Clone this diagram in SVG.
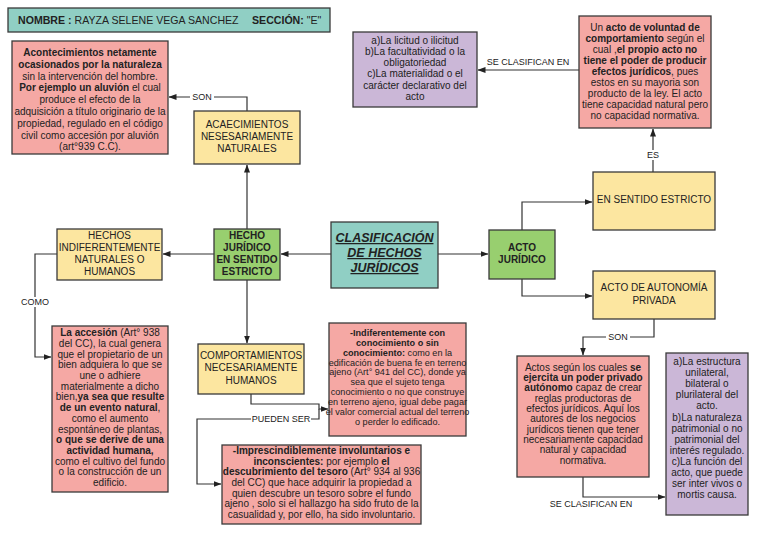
<svg xmlns="http://www.w3.org/2000/svg" width="768" height="543" viewBox="0 0 768 543">
<defs>
<marker id="arr" markerWidth="8" markerHeight="6" refX="7.5" refY="3" orient="auto" markerUnits="userSpaceOnUse"><path d="M0,0 L8,3 L0,6 z" fill="#222"/></marker>
<style>
text{font-family:"Liberation Sans",Arial,sans-serif;fill:#222;text-anchor:middle}
.b{font-weight:bold}
.box{stroke:#3a3a3a;stroke-width:1.3}
.red{fill:#f5a8a4}.yel{fill:#fce6a0}.grn{fill:#98cf6f}.pur{fill:#cbb7d7}.teal{fill:#90cfc4}
.t10{font-size:10px}.t9{font-size:9.1px}
.conn path{fill:none;stroke:#333;stroke-width:1.2}
.lbl{font-size:9px}
.bg{fill:#fff}
.cl{font-size:12.5px;font-weight:bold;font-style:italic;text-decoration:underline}
</style>
</defs>
<rect width="768" height="543" fill="#fff"/>

<g id="header">
<rect class="box teal" x="8" y="8" width="322" height="24"/>
<text x="18" y="24" style="font-size:10.6px;text-anchor:start"><tspan class="b">NOMBRE :</tspan> RAYZA SELENE VEGA SANCHEZ</text>
<text x="252" y="24" style="font-size:10.6px;text-anchor:start"><tspan class="b">SECCIÓN:</tspan> "E"</text>
</g>

<g class="conn" id="connectors">
<path d="M247,111 V97 H169" marker-end="url(#arr)"/>
<path d="M331,254 H281" marker-end="url(#arr)"/>
<path d="M214,254 H163" marker-end="url(#arr)"/>
<path d="M247,229 V165" marker-end="url(#arr)"/>
<path d="M247,280 V343" marker-end="url(#arr)"/>
<path d="M57,254 H35 V357 H51" marker-end="url(#arr)"/>
<path d="M251,394 V404 H319 V409 H328" marker-end="url(#arr)"/>
<path d="M319,409 V419 H197 V484 H221" marker-end="url(#arr)"/>
<path d="M438,254 H488" marker-end="url(#arr)"/>
<path d="M522,230 V202 H592" marker-end="url(#arr)"/>
<path d="M522,279 V296 H592" marker-end="url(#arr)"/>
<path d="M653,172 V129" marker-end="url(#arr)"/>
<path d="M579,70 H478" marker-end="url(#arr)"/>
<path d="M654,319 V337 H583 V355" marker-end="url(#arr)"/>
<path d="M583,477 V497 H665" marker-end="url(#arr)"/>
<rect class="bg" x="190" y="92" width="24" height="10"/>
<text class="lbl" x="202" y="100">SON</text>
<rect class="bg" x="21" y="297" width="28" height="10"/>
<text class="lbl" x="35" y="305">COMO</text>
<rect class="bg" x="251" y="414" width="60" height="10"/>
<text class="lbl" x="281" y="422">PUEDEN SER</text>
<rect class="bg" x="645" y="150" width="16" height="10"/>
<text class="lbl" x="653" y="158">ES</text>
<text class="lbl" x="528" y="65">SE CLASIFICAN EN</text>
<rect class="bg" x="606" y="332" width="24" height="10"/>
<text class="lbl" x="618" y="340">SON</text>
<text class="lbl" x="591" y="507">SE CLASIFICAN EN</text>
</g>

<g id="n-naturaleza">
<rect class="box red" x="12" y="41" width="156" height="113"/>
<text class="t10" x="90" y="56"><tspan class="b">Acontecimientos netamente</tspan></text>
<text class="t10" x="90" y="67.8"><tspan class="b">ocasionados por la naturaleza</tspan></text>
<text class="t10" x="90" y="79.6">sin la intervención del hombre.</text>
<text class="t10" x="90" y="91.4"><tspan class="b">Por ejemplo un aluvión</tspan> el cual</text>
<text class="t10" x="90" y="103.2">produce el efecto de la</text>
<text class="t10" x="90" y="115">adquisición a título originario de la</text>
<text class="t10" x="90" y="126.8">propiedad, regulado en el código</text>
<text class="t10" x="90" y="138.6">civil como accesión por aluvión</text>
<text class="t10" x="90" y="150.4">(art°939 C.C).</text>
</g>

<g id="n-acaecimientos">
<rect class="box yel" x="194" y="111" width="106" height="53"/>
<text class="t10" x="247" y="128">ACAECIMIENTOS</text>
<text class="t10" x="247" y="140">NESESARIAMENTE</text>
<text class="t10" x="247" y="152">NATURALES</text>
</g>

<g id="n-licitud">
<rect class="box pur" x="353" y="32" width="124" height="75"/>
<text class="t10" x="415" y="43.5">a)La licitud o ilicitud</text>
<text class="t10" x="415" y="54.8">b)La facultatividad o la</text>
<text class="t10" x="415" y="66.1">obligatoriedad</text>
<text class="t10" x="415" y="77.4">c)La materialidad o el</text>
<text class="t10" x="415" y="88.7">carácter declarativo del</text>
<text class="t10" x="415" y="100">acto</text>
</g>

<g id="n-voluntad">
<rect class="box red" x="579" y="16" width="132" height="112"/>
<text class="t10" x="645" y="30.8">Un <tspan class="b">acto de voluntad de</tspan></text>
<text class="t10" x="645" y="41.8"><tspan class="b">comportamiento</tspan> según el</text>
<text class="t10" x="645" y="52.7">cual ,<tspan class="b">el propio acto no</tspan></text>
<text class="t10" x="645" y="63.7"><tspan class="b">tiene el poder de producir</tspan></text>
<text class="t10" x="645" y="74.6"><tspan class="b">efectos jurídicos</tspan>, pues</text>
<text class="t10" x="645" y="85.6">estos en su mayoria son</text>
<text class="t10" x="645" y="96.6">producto de la ley. El acto</text>
<text class="t10" x="645" y="107.5">tiene capacidad natural pero</text>
<text class="t10" x="645" y="118.5">no capacidad normativa.</text>
</g>

<g id="n-indiferentes">
<rect class="box yel" x="57" y="229" width="105" height="51"/>
<text class="t10" x="109.5" y="239">HECHOS</text>
<text class="t10" x="109.5" y="251">INDIFERENTEMENTE</text>
<text class="t10" x="109.5" y="263">NATURALES O</text>
<text class="t10" x="109.5" y="274.5">HUMANOS</text>
</g>

<g id="n-hecho">
<rect class="box grn" x="214" y="229" width="66" height="51"/>
<text class="t10 b" x="247" y="239">HECHO</text>
<text class="t10 b" x="247" y="251">JURÍDICO</text>
<text class="t10 b" x="247" y="263">EN SENTIDO</text>
<text class="t10 b" x="247" y="274.5">ESTRICTO</text>
</g>

<g id="n-clasificacion">
<rect class="box teal" x="331" y="222" width="107" height="66"/>
<text class="cl" x="384.5" y="242">CLASIFICACIÓN</text>
<text class="cl" x="384.5" y="257">DE HECHOS</text>
<text class="cl" x="384.5" y="272">JURÍDICOS</text>
</g>

<g id="n-acto">
<rect class="box grn" x="489" y="230" width="66" height="49"/>
<text class="t10 b" x="522" y="250.5">ACTO</text>
<text class="t10 b" x="522" y="263">JURÍDICO</text>
</g>

<g id="n-estricto">
<rect class="box yel" x="593" y="172" width="122" height="58"/>
<text class="t10" x="654" y="202.5">EN SENTIDO ESTRICTO</text>
</g>

<g id="n-autonomia">
<rect class="box yel" x="593" y="271" width="122" height="48"/>
<text class="t10" x="654" y="291">ACTO DE AUTONOMÍA</text>
<text class="t10" x="654" y="303.5">PRIVADA</text>
</g>

<g id="n-accesion">
<rect class="box red" x="52" y="326" width="116" height="166"/>
<text class="t10" x="110" y="336.2"><tspan class="b">La accesión</tspan> (Art° 938</text>
<text class="t10" x="110" y="346.9">del CC), la cual genera</text>
<text class="t10" x="110" y="357.6">que el propietario de un</text>
<text class="t10" x="110" y="368.3">bien adquiera lo que se</text>
<text class="t10" x="110" y="379">une o adhiere</text>
<text class="t10" x="110" y="389.7">materialmente a dicho</text>
<text class="t10" x="110" y="400.4">bien,<tspan class="b">ya sea que resulte</tspan></text>
<text class="t10" x="110" y="411.1"><tspan class="b">de un evento natural</tspan>,</text>
<text class="t10" x="110" y="421.8">como el aumento</text>
<text class="t10" x="110" y="432.5">espontáneo de plantas,</text>
<text class="t10" x="110" y="443.2"><tspan class="b">o que se derive de una</tspan></text>
<text class="t10" x="110" y="453.9"><tspan class="b">actividad humana,</tspan></text>
<text class="t10" x="110" y="464.6">como el cultivo del fundo</text>
<text class="t10" x="110" y="475.3">o la construcción de un</text>
<text class="t10" x="110" y="486">edificio.</text>
</g>

<g id="n-comportamientos">
<rect class="box yel" x="198" y="344" width="106" height="50"/>
<text class="t10" x="251" y="358.5">COMPORTAMIENTOS</text>
<text class="t10" x="251" y="371">NECESARIAMENTE</text>
<text class="t10" x="251" y="383.5">HUMANOS</text>
</g>

<g id="n-conocimiento">
<rect class="box red" x="329" y="323" width="137" height="113"/>
<text class="t9" x="397.5" y="336"><tspan class="b">-Indiferentemente con</tspan></text>
<text class="t9" x="397.5" y="345.9"><tspan class="b">conocimiento o sin</tspan></text>
<text class="t9" x="397.5" y="355.7"><tspan class="b">conocimiento:</tspan> como en la</text>
<text class="t9" x="397.5" y="365.6">edificación de buena fe en terreno</text>
<text class="t9" x="397.5" y="375.4">ajeno (Art° 941 del CC), donde ya</text>
<text class="t9" x="397.5" y="385.3">sea que el sujeto tenga</text>
<text class="t9" x="397.5" y="395.1">conocimiento o no que construye</text>
<text class="t9" x="397.5" y="405">en terreno ajeno, igual debe pagar</text>
<text class="t9" x="397.5" y="414.8">el valor comercial actual del terreno</text>
<text class="t9" x="397.5" y="424.7">o perder lo edificado.</text>
</g>

<g id="n-tesoro">
<rect class="box red" x="222" y="445" width="199" height="79"/>
<text class="t10" x="321.5" y="454.2"><tspan class="b">-Imprescindiblemente involuntarios e</tspan></text>
<text class="t10" x="321.5" y="464.8"><tspan class="b">inconscientes:</tspan> por ejemplo <tspan class="b">el</tspan></text>
<text class="t10" x="321.5" y="475.4"><tspan class="b">descubrimiento del tesoro</tspan> (Art° 934 al 936</text>
<text class="t10" x="321.5" y="486">del CC) que hace adquirir la propiedad a</text>
<text class="t10" x="321.5" y="496.6">quien descubre un tesoro sobre el fundo</text>
<text class="t10" x="321.5" y="507.2">ajeno , solo si el hallazgo ha sido fruto de la</text>
<text class="t10" x="321.5" y="517.8">casualidad y, por ello, ha sido involuntario.</text>
</g>

<g id="n-poder">
<rect class="box red" x="517" y="356" width="132" height="121"/>
<text class="t10" x="583" y="370.8">Actos según los cuales <tspan class="b">se</tspan></text>
<text class="t10" x="583" y="381.1"><tspan class="b">ejercita un poder privado</tspan></text>
<text class="t10" x="583" y="391.4"><tspan class="b">autónomo</tspan> capaz de crear</text>
<text class="t10" x="583" y="401.7">reglas productoras de</text>
<text class="t10" x="583" y="412">efectos jurídicos. Aquí los</text>
<text class="t10" x="583" y="422.3">autores de los negocios</text>
<text class="t10" x="583" y="432.6">jurídicos tienen que tener</text>
<text class="t10" x="583" y="442.9">necesariamente capacidad</text>
<text class="t10" x="583" y="453.2">natural y capacidad</text>
<text class="t10" x="583" y="463.5">normativa.</text>
</g>

<g id="n-estructura">
<rect class="box pur" x="666" y="353" width="82" height="162"/>
<text class="t10" x="707" y="365.2">a)La estructura</text>
<text class="t10" x="707" y="376.3">unilateral,</text>
<text class="t10" x="707" y="387.3">bilateral o</text>
<text class="t10" x="707" y="398.4">plurilateral del</text>
<text class="t10" x="707" y="409.4">acto.</text>
<text class="t10" x="707" y="420.5">b)La naturaleza</text>
<text class="t10" x="707" y="431.6">patrimonial o no</text>
<text class="t10" x="707" y="442.6">patrimonial del</text>
<text class="t10" x="707" y="453.7">interés regulado.</text>
<text class="t10" x="707" y="464.7">c)La función del</text>
<text class="t10" x="707" y="475.8">acto, que puede</text>
<text class="t10" x="707" y="486.9">ser inter vivos o</text>
<text class="t10" x="707" y="497.9">mortis causa.</text>
</g>
</svg>
